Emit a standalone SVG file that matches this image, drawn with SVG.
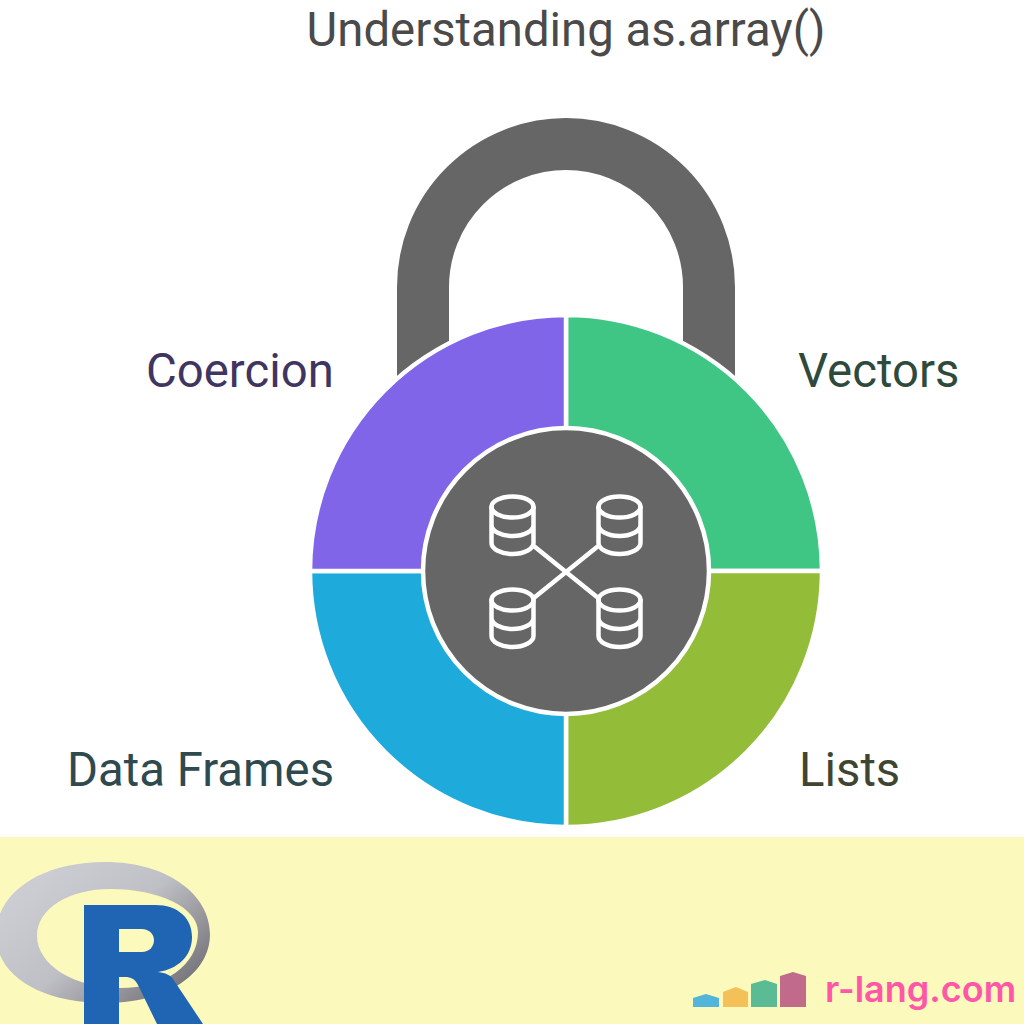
<svg xmlns="http://www.w3.org/2000/svg" width="1024" height="1024" viewBox="0 0 1024 1024">
<style>
.t{font-family:Roboto,"Liberation Sans",sans-serif;font-size:47.300px}
.seg{stroke:#fff;stroke-width:4.500}
.ic{fill:none;stroke:#fff;stroke-width:4.500;stroke-linecap:round}
</style>
<defs>
<linearGradient id="g" gradientUnits="userSpaceOnUse" x1="50" y1="870" x2="170" y2="1010"><stop offset="0" stop-color="#cbcdd2"/><stop offset=".45" stop-color="#bfc0c5"/><stop offset="1" stop-color="#6f6e74"/></linearGradient>
<g id="db"><ellipse cx="22.500" cy="12" rx="21" ry="10.500" class="ic"/><path class="ic" d="M1.500 12V48C1.500 54 11 59 22.500 59S43.500 54 43.500 48V12M1.500 30C1.500 36 11 41 22.500 41S43.500 36 43.500 30"/></g>
</defs>
<rect width="1024" height="1024" fill="#fff"/>
<rect y="837" width="1024" height="187" fill="#fbf9bb"/>
<text class="t" x="566" y="46" text-anchor="middle" fill="#4a4a4a">Understanding as.array()</text>
<g id="shackle"><path d="M423 400V287A143 143 0 0 1 709 287V400" fill="none" stroke="#666" stroke-width="52"/></g>
<g id="vectors"><path class="seg" d="M566 315A256 256 0 0 1 822 571H566Z" fill="#40c684"/><text class="t" x="798" y="387" fill="#2f4a3d">Vectors</text></g>
<g id="lists"><path class="seg" d="M822 571A256 256 0 0 1 566 827V571Z" fill="#93bc39"/><text class="t" x="799" y="786" fill="#3f4531">Lists</text></g>
<g id="data-frames"><path class="seg" d="M566 827A256 256 0 0 1 310 571H566Z" fill="#1eabdb"/><text class="t" x="67" y="786" fill="#2f4a4f">Data Frames</text></g>
<g id="coercion"><path class="seg" d="M310 571A256 256 0 0 1 566 315V571Z" fill="#8065e9"/><text class="t" x="146" y="387" fill="#403560">Coercion</text></g>
<g id="hub"><circle cx="566" cy="571" r="143" fill="#666" stroke="#fff" stroke-width="4.500"/>
<use href="#db" x="490" y="495"/><use href="#db" x="597" y="495"/><use href="#db" x="490" y="588"/><use href="#db" x="597" y="588"/></g>
<g id="connectors"><path class="ic" d="M535 547L597 597M597 547L535 597"/></g>
<g id="r-logo"><path fill-rule="evenodd" fill="url(#g)" d="M-4 935C-4 893 40 862 105 862C168 862 210 895 210 934C210 975 165 1003 105 1003C40 1003 -4 975 -4 935ZM37 936C37 965 75 988 120 988C165 988 198 965 198 932C198 908 160 889 110 889C70 889 37 908 37 936Z"/>
<path fill="#2065b4" fill-rule="evenodd" d="M84 905H155C178 905 192 918 192 937C192 956 178 969 158 972C166 973 170 975 173 979L203 1024H157L138 985C135 979 131 977 125 977H119V1024H84ZM119 929V952H142C149 952 154 947 154 940C154 934 149 929 142 929Z"/></g>
<g id="brand">
<path fill="#52b5d9" d="M693 1007V998L706 994L719 998V1007Z"/>
<path fill="#f4c159" d="M723 1007V992L736 987L748 992V1007Z"/>
<path fill="#5bbb94" d="M751 1007V984L765 980L777 984V1007Z"/>
<path fill="#c26a8a" d="M780 1007V976L793 972L806 976V1007Z"/>
<text x="825" y="1002" font-family="Inter,'Liberation Sans',sans-serif" font-weight="600" font-size="36" fill="#ff56a8">r-lang.com</text></g>
</svg>
